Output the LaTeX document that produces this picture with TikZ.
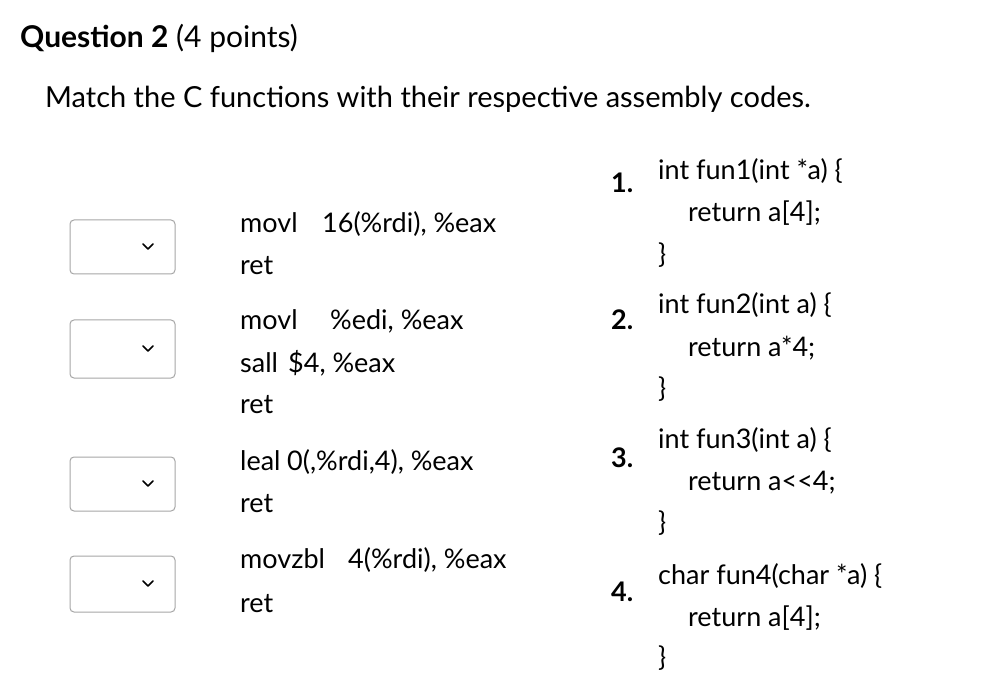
\documentclass[tikz,border=0pt]{standalone}
\usepackage{fontspec}
\setmainfont{Lato}
\begin{document}
\begin{tikzpicture}[x=1pt,y=-1pt,
    txt/.style={anchor=base west,inner sep=0pt,font=\fontsize{27}{32}\selectfont},
    num/.style={anchor=base west,inner sep=0pt,font=\fontsize{27}{32}\selectfont\bfseries},
    choice/.style={draw=gray!70,rounded corners=4pt,line width=1pt}]
\useasboundingbox[fill=white] (0,0) rectangle (994,687);
\node[anchor=base west,inner sep=0pt,font=\fontsize{30}{34}\selectfont] (title) at (20,48) {\textbf{Question 2} (4 points)};
\node[txt,font=\fontsize{29}{34}\selectfont] (prompt) at (45,108) {Match the C functions with their respective assembly codes.};
% dropdown boxes
\foreach \t/\b [count=\i] in {220/274,320/378,457/511,556/612}{
  \draw[choice] (70,\t) coordinate (box\i) rectangle (175,\b);
  \draw[line width=1.5pt,line cap=round,line join=round] (143,{(\t+\b)/2-3}) -- (148,{(\t+\b)/2+2}) -- (153,{(\t+\b)/2-3});
}
% assembly
\node[txt] (a1) at (240,233) {movl}; \node[txt] at (322,233) {16(\%rdi), \%eax};
\node[txt] (a1r) at (240,275) {ret};
\node[txt] (a2) at (240,330) {movl}; \node[txt] at (330,330) {\%edi, \%eax};
\node[txt] (a2s) at (240,372) {sall}; \node[txt] at (288,372) {\$4, \%eax};
\node[txt] (a2r) at (240,413) {ret};
\node[txt] (a3) at (240,470) {leal}; \node[txt] at (287,470) {0(,\%rdi,4), \%eax};
\node[txt] (a3r) at (240,512) {ret};
\node[txt] (a4) at (240,568) {movzbl}; \node[txt] at (348,568) {4(\%rdi), \%eax};
\node[txt] (a4r) at (240,612) {ret};
% C functions
\node[num] (n1) at (611,193) {1.};
\node[txt] (f1) at (658,180) {int fun1(int *a) \{};
\node[txt] at (688,222) {return a[4];};
\node[txt] at (658,264) {\}};
\node[num] (n2) at (611,330) {2.};
\node[txt] (f2) at (658,314) {int fun2(int a) \{};
\node[txt] at (688,356) {return a*4;};
\node[txt] at (658,397) {\}};
\node[num] (n3) at (611,467) {3.};
\node[txt] (f3) at (658,448) {int fun3(int a) \{};
\node[txt] at (688,490) {return a<{}<4;};
\node[txt] at (658,531) {\}};
\node[num] (n4) at (611,601) {4.};
\node[txt] (f4) at (658,584) {char fun4(char *a) \{};
\node[txt] at (688,626) {return a[4];};
\node[txt] at (658,666) {\}};
\end{tikzpicture}
\end{document}
